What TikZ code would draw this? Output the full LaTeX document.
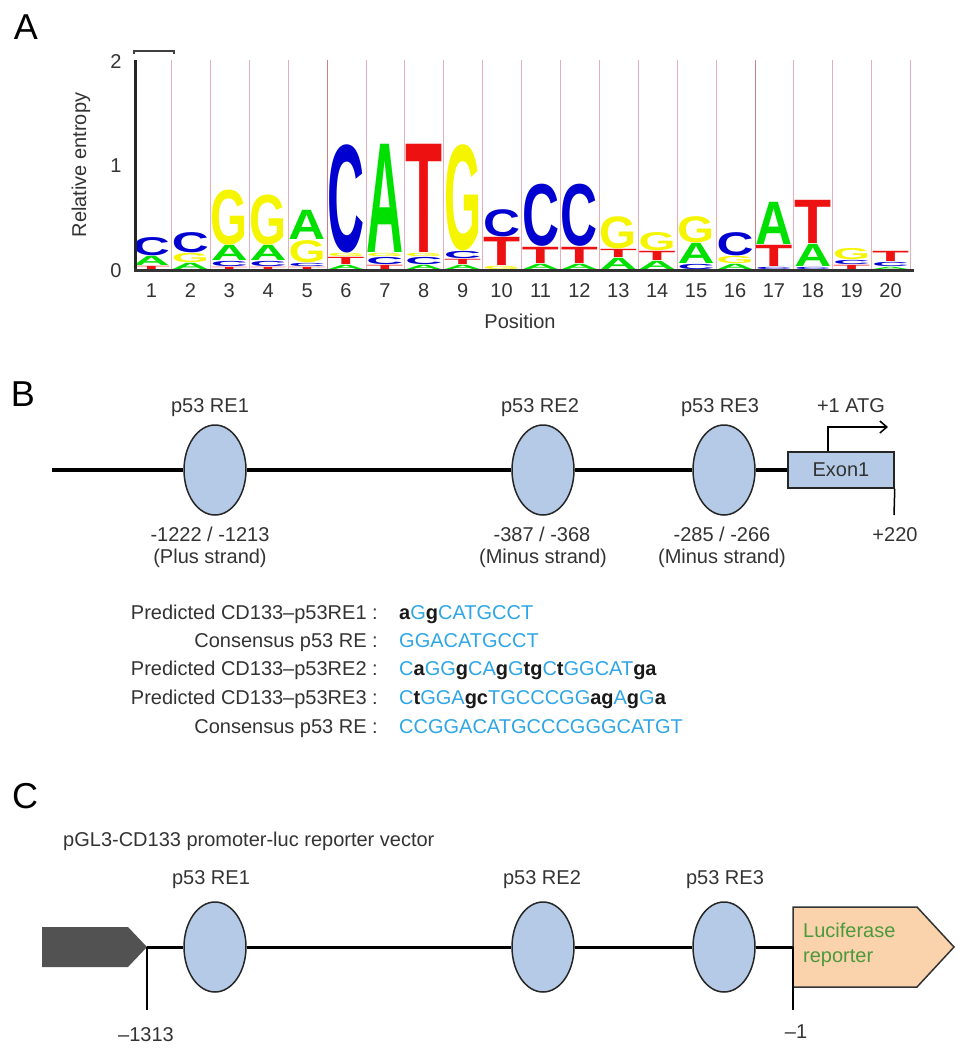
\documentclass[tikz,border=0pt]{standalone}
\usepackage{fontspec}
\setmainfont{Liberation Sans}
\usepackage{xcolor}
\usepackage{graphicx}
\usepackage{tikz}
\usetikzlibrary{shapes,positioning,arrows.meta}

\definecolor{txtgray}{HTML}{333333}
\definecolor{reblue}{HTML}{B4CAE6}
\definecolor{seqblue}{HTML}{2EA6E6}
\definecolor{lucpeach}{HTML}{FAD2AC}
\definecolor{lucgreen}{HTML}{4C9A3C}
\definecolor{gridpink}{HTML}{E8AEBA}
\definecolor{griddark}{HTML}{CC8088}
\definecolor{colA}{HTML}{00E000}
\definecolor{colC}{HTML}{0000D0}
\definecolor{colG}{HTML}{F5F500}
\definecolor{colT}{HTML}{EE1111}

\tikzset{ell/.style={ellipse,draw=black!85,line width=1.5pt,fill=reblue,minimum width=62pt,minimum height=90pt,inner sep=0pt}}
\tikzset{lbl/.style={text=txtgray,font=\fontsize{20}{24}\selectfont,inner sep=0pt}}
\tikzset{panel/.style={text=black,font=\fontsize{36}{40}\selectfont,inner sep=0pt}}
\tikzset{exon/.style={rectangle,draw=black!85,line width=1.5pt,fill=reblue,minimum width=106pt,minimum height=36pt,text=txtgray,font=\fontsize{20}{24}\selectfont}}
\tikzset{dna/.style={line width=3.5pt}}
\tikzset{seq/.style={font=\fontsize{20}{24}\selectfont,inner sep=0pt,anchor=base west}}

\newcommand{\mt}[1]{\textcolor{seqblue}{#1}}
\newcommand{\mm}[1]{\textcolor{black!90}{\bfseries #1}}

\newcommand{\logoletter}[4]{%
  \pgfmathsetmacro{\lgx}{151.5+(#1-1)*38.9}%
  \pgfmathsetmacro{\lgh}{#3-#4-0.8}%
  \node[anchor=south,inner sep=0pt,text=col#2] (lg#1#2) at (\lgx,#3) {\resizebox*{37pt}{\lgh pt}{\bfseries #2}};%
}

\begin{document}
\begin{tikzpicture}[x=1pt,y=-1pt,>={Straight Barb[length=7pt,width=12pt]}]
        \useasboundingbox (0,0) rectangle (969,1054);

        % A
        \node[panel] (pA) at (26,27) {A};
        \foreach \i in {1,...,20}
            \draw[gridpink,line width=1pt] ({132.6+\i*38.9},60) -- ({132.6+\i*38.9},270);
        \draw[griddark,line width=1pt] (327.1,60) -- (327.1,270);
        \draw[griddark,line width=1pt] (755,60) -- (755,270);
        \draw[black!75,line width=1.2pt] (134,54) -- (134,51) -- (174,51) -- (174,54);

        \foreach \pos/\nt/\ybot/\ytop in {
            1/T/270/266, 1/A/266/256, 1/C/256/237,
            2/A/270/263, 2/G/263/253, 2/C/253/232,
            3/T/270/267, 3/C/267/261, 3/A/261/245, 3/G/245/189,
            4/T/270/267, 4/C/267/261, 4/A/261/245, 4/G/245/194,
            5/T/270/267, 5/C/267/263, 5/G/263/240, 5/A/240/210,
            6/A/270/265, 6/T/265/257, 6/G/257/253, 6/C/253/144,
            7/T/270/265, 7/C/265/257, 7/G/257/253, 7/A/253/144,
            8/A/270/265, 8/C/265/257, 8/G/257/253, 8/T/253/144,
            9/A/270/265, 9/T/265/259, 9/C/259/251, 9/G/251/144,
            10/G/270/266, 10/T/266/237, 10/C/237/209,
            11/A/270/264, 11/T/264/247, 11/C/247/184,
            12/A/270/264, 12/T/264/247, 12/C/247/184,
            13/A/270/258, 13/T/258/249, 13/G/249/216,
            14/A/270/261, 14/T/261/251, 14/G/251/232,
            15/C/270/264, 15/A/264/243, 15/G/243/216,
            16/A/270/264, 16/G/264/256, 16/C/256/232,
            17/C/270/267, 17/T/267/245, 17/A/245/202,
            18/C/270/267, 18/A/267/244, 18/T/244/200,
            19/T/270/265, 19/C/265/260, 19/G/260/248,
            20/A/270/267, 20/C/267/262, 20/T/262/251}
            \logoletter{\pos}{\nt}{\ybot}{\ytop};

        \draw[black!85,line width=3pt] (135,60) -- (135,271.5);
        \draw[black!80,line width=3pt] (134,270) -- (914,270);
        \node[lbl] (y2) at (116,62) {2};
        \node[lbl] (y1) at (116,166) {1};
        \node[lbl] (y0) at (116,271) {0};
        \foreach \i in {1,...,20}
            \node[lbl] (n\i) at ({151.5+(\i-1)*38.9},291) {\i};
        \node[lbl] (xlab) at (520,321) {Position};
        \node[lbl,rotate=90] (ylab) at (81,165) {Relative entropy};

        % B
        \node[panel] (pB) at (23,394) {B};
        \coordinate (bstart) at (52,470);
        \node[ell] (b1) at (215,470) {};
        \node[ell] (b2) at (543,470) {};
        \node[ell] (b3) at (724,470) {};
        \node[exon] (ex) at (841,470) {Exon1};
        \draw[dna] (bstart) -- (b1) -- (b2) -- (b3) -- (ex);

        \coordinate (atg) at (888,427);
        \coordinate (b220) at (894,515);
        \draw[line width=1.5pt,->] ([xshift=-13pt]ex.north) |- (atg);
        \draw[line width=1.5pt] (ex.south east) -- (b220);

        \node[lbl] (b1t) at (210,408) {p53 RE1};
        \node[lbl] (b2t) at (540,408) {p53 RE2};
        \node[lbl] (b3t) at (720,408) {p53 RE3};
        \node[lbl] (atgt) at (851,406) {+1 ATG};
        \node[lbl] (b1p) at (210,534) {-1222 / -1213};
        \node[lbl] (b1s) at (210,558) {(Plus strand)};
        \node[lbl] (b2p) at (542,534) {-387 / -368};
        \node[lbl] (b2s) at (543,558) {(Minus strand)};
        \node[lbl] (b3p) at (722,534) {-285 / -266};
        \node[lbl] (b3s) at (722,558) {(Minus strand)};
        \node[lbl] (b220t) at (895,535) {+220};

        \node[lbl,anchor=base east] (s1) at (378,619) {Predicted CD133–p53RE1 :};
        \node[lbl,anchor=base east] (s2) at (378,647) {Consensus p53 RE :};
        \node[lbl,anchor=base east] (s3) at (378,675) {Predicted CD133–p53RE2 :};
        \node[lbl,anchor=base east] (s4) at (378,704) {Predicted CD133–p53RE3 :};
        \node[lbl,anchor=base east] (s5) at (378,733) {Consensus p53 RE :};
        \node[seq] (q1) at (399,619) {\mm{a}\mt{G}\mm{g}\mt{CATGCCT}};
        \node[seq] (q2) at (399,647) {\mt{GGACATGCCT}};
        \node[seq] (q3) at (399,675) {\mt{C}\mm{a}\mt{GG}\mm{g}\mt{CA}\mm{g}\mt{G}\mm{tg}\mt{C}\mm{t}\mt{GGCAT}\mm{ga}};
        \node[seq] (q4) at (399,704) {\mt{C}\mm{t}\mt{GGA}\mm{gc}\mt{TGCCCGG}\mm{ag}\mt{A}\mm{g}\mt{G}\mm{a}};
        \node[seq] (q5) at (399,733) {\mt{CCGGACATGCCCGGGCATGT}};

        % C
        \node[panel] (pC) at (25,796) {C};
        \node[lbl,anchor=west] (vec) at (63,841) {pGL3-CD133 promoter-luc reporter vector};

        \fill[black!68] (42,927) -- (128,927) -- (147,947) -- (128,967) -- (42,967) -- cycle;
        \coordinate (cstart) at (147,947);
        \filldraw[fill=lucpeach,draw=black!80,line width=1.5pt] (793,907) -- (917,907) -- (954,947) -- (917,987) -- (793,987) -- cycle;
        \coordinate (luc) at (793,947);

        \node[ell] (c1) at (215,947) {};
        \node[ell] (c2) at (543,947) {};
        \node[ell] (c3) at (724,947) {};
        \draw[line width=3pt] (cstart) -- (c1) -- (c2) -- (c3) -- (luc);

        \coordinate (cl) at (147,1010);
        \coordinate (cr) at (793,1010);
        \draw[line width=1.5pt] (cstart) -- (cl);
        \draw[line width=1.5pt] (luc) -- (cr);

        \node[lbl] (c1t) at (211,880) {p53 RE1};
        \node[lbl] (c2t) at (542,880) {p53 RE2};
        \node[lbl] (c3t) at (725,880) {p53 RE3};
        \node[lbl,text=lucgreen,anchor=west] (luc1) at (803,930) {Luciferase};
        \node[lbl,text=lucgreen,anchor=west] (luc2) at (803,958) {reporter};
        \node[lbl] (clt) at (146,1035) {–1313};
        \node[lbl] (crt) at (796,1032) {–1};
    \end{tikzpicture}
\end{document}
